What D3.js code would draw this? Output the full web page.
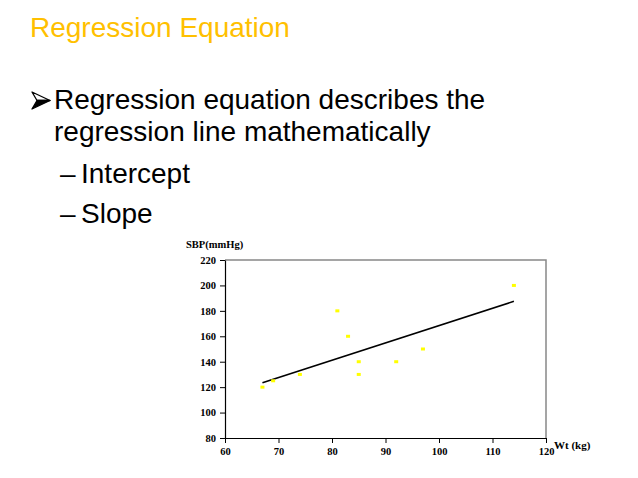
<!DOCTYPE html>
<html>
<head>
<meta charset="utf-8">
<script src="https://cdn.jsdelivr.net/npm/d3@7"></script>
<style>
  body { margin: 0; background: #fff; }
</style>
</head>
<body>
<div id="container"></div>
<script>
// slide text
const title = "Regression Equation";
const bulletLines = ["Regression equation describes the", "regression line mathematically"];
const subBullets = ["Intercept", "Slope"];

// scatter data: weight (kg) vs SBP (mmHg)
const weights = [67, 69, 74, 81, 83, 85, 85, 92, 97, 114];
const sbp = [120, 125, 130, 180, 160, 140, 130, 140, 150, 200];

// fitted line end points
const fitX = [67, 114];
const fitY = [123.4, 187.5];

const xTicks = [60, 70, 80, 90, 100, 110, 120];
const yTicks = [80, 100, 120, 140, 160, 180, 200, 220];

const w = 638; // canvas width
const h = 478; // canvas height
const sans = "Liberation Sans, Arial, sans-serif";
const serif = "Liberation Serif, Times New Roman, serif";

const svg = d3.select("#container").append("svg").attr("width", w).attr("height", h);

// slide text
svg.append("text").attr("x", 30).attr("y", 37).text(title)
    .attr("font-family", sans).attr("font-size", 28).attr("fill", "#FFC000");

// arrowhead bullet
svg.append("path").attr("d", "M32,92L50,100.5L37,100.5Z")
    .attr("fill", "#fff").attr("stroke", "#000").attr("stroke-width", 1.3).attr("stroke-linejoin", "round");
svg.append("path").attr("d", "M37,100.5L50,100.5L32,109Z")
    .attr("fill", "#000").attr("stroke", "#000").attr("stroke-width", 1.3).attr("stroke-linejoin", "round");

bulletLines.forEach((t, i) => {
    svg.append("text").attr("x", 54).attr("y", 109 + i * 32).text(t)
        .attr("font-family", sans).attr("font-size", 28).attr("fill", "#000");
});

subBullets.forEach((t, i) => {
    const y = 183 + i * 40;
    svg.append("text").attr("x", 60).attr("y", y).text("\u2013")
        .attr("font-family", sans).attr("font-size", 28).attr("fill", "#000");
    svg.append("text").attr("x", 81).attr("y", y).text(t)
        .attr("font-family", sans).attr("font-size", 28).attr("fill", "#000");
});

// chart
const pl = 225, pr = 546, pt = 260, pb = 438;

const xScale = d3.scaleLinear().domain([60, 120]).range([pl, pr]);
const yScale = d3.scaleLinear().domain([80, 220]).range([pb, pt]);

// frame (top and right in grey)
svg.append("path")
    .attr("d", `M${pl},${pt}H${pr}V${pb}`)
    .attr("fill", "none").attr("stroke", "#888").attr("stroke-width", 1.5);

const xAxis = d3.axisBottom(xScale).tickValues(xTicks).tickSize(5).tickSizeOuter(0).tickPadding(5);
const gx = svg.append("g").attr("transform", `translate(0, ${pb})`).call(xAxis);

const yAxis = d3.axisLeft(yScale).tickValues(yTicks).tickSize(5).tickSizeOuter(0).tickPadding(4);
const gy = svg.append("g").attr("transform", `translate(${pl}, 0)`).call(yAxis);

[gx, gy].forEach(g => {
    g.selectAll("text").attr("font-family", serif)
        .attr("font-size", 10.5).attr("font-weight", "bold").attr("fill", "#000");
    g.select(".domain").attr("stroke", "#000").attr("stroke-width", 1.2);
    g.selectAll(".tick line").attr("stroke", "#000");
});

svg.append("text").attr("x", 186).attr("y", 248).text("SBP(mmHg)")
    .attr("font-family", serif).attr("font-size", 10.5).attr("font-weight", "bold");
svg.append("text").attr("x", 554).attr("y", 449).text("Wt (kg)")
    .attr("font-family", serif).attr("font-size", 11).attr("font-weight", "bold");

// regression line
const line = d3.line().x(d => xScale(d[0])).y(d => yScale(d[1]));
svg.append("path").datum(fitX.map((x, i) => [x, fitY[i]]))
    .attr("d", line).attr("fill", "none").attr("stroke", "#000").attr("stroke-width", 1.6);

// points
svg.selectAll("rect.dot").data(weights).enter().append("rect").attr("class", "dot")
    .attr("x", (d) => xScale(d) - 2).attr("y", (d, i) => yScale(sbp[i]) - 1.5)
    .attr("width", 4).attr("height", 3).attr("fill", "#FFFF00");
</script>
</body>
</html>
